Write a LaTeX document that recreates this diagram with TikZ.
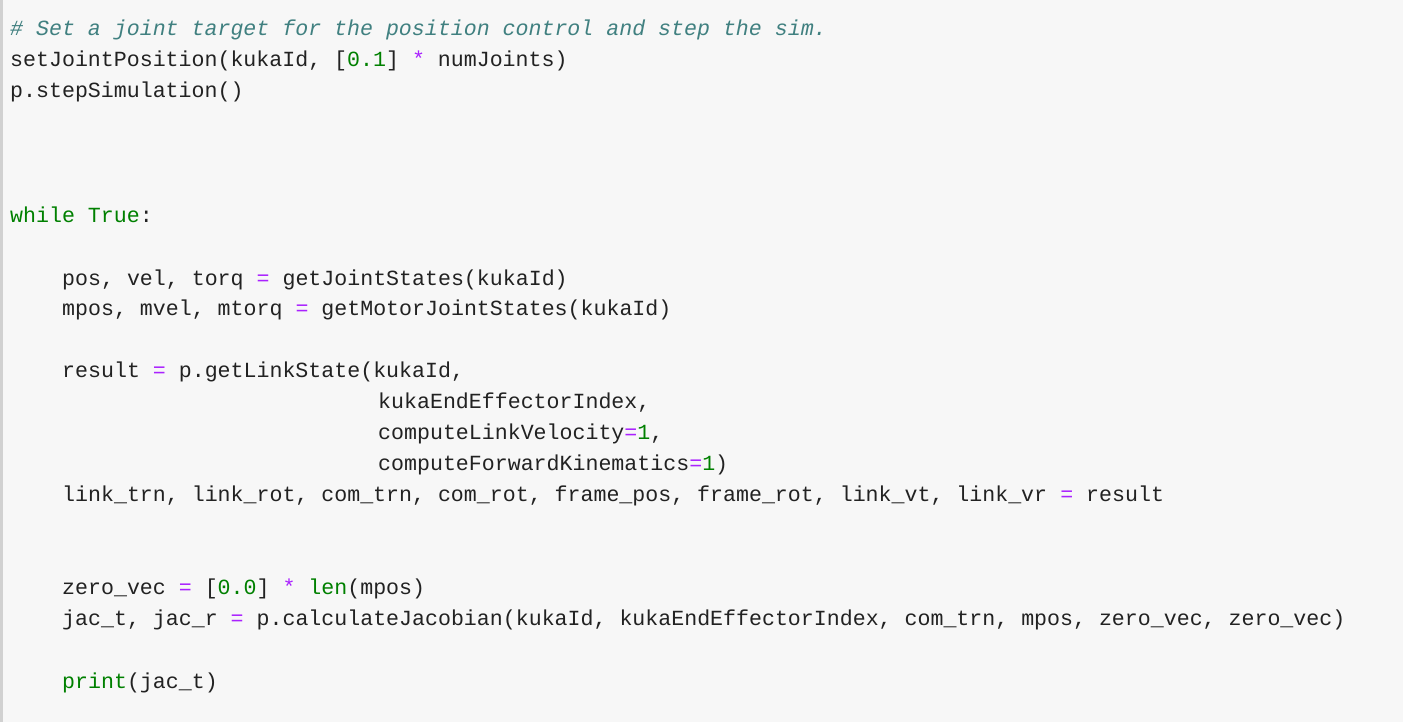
\documentclass[tikz,border=0pt]{standalone}
\usepackage{fontspec}
\setmonofont{Liberation Mono}
\definecolor{bg}{HTML}{F7F7F7}
\definecolor{cm}{HTML}{408080}
\definecolor{kw}{HTML}{008000}
\definecolor{op}{HTML}{AA22FF}
\definecolor{nm}{HTML}{008000}
\definecolor{tx}{HTML}{222222}
\newcommand{\K}[1]{\textcolor{kw}{#1}}
\newcommand{\Op}[1]{\textcolor{op}{#1}}
\newcommand{\N}[1]{\textcolor{nm}{#1}}
\begin{document}
\begin{tikzpicture}[x=1pt,y=-1pt,
  code/.style={anchor=base west,inner sep=0pt,text=tx,font=\ttfamily\fontsize{21.6}{26}\selectfont}]
\useasboundingbox (0,0) rectangle (1403,722);
\fill[bg] (0,0) rectangle (1403,722);
\fill[black!18] (0,0) rectangle (3,722);
\node[code] (l1) at (10,36) {\textcolor{cm}{\itshape \# Set a joint target for the position control and step the sim.}};
\node[code] (l2) at (10,67) {setJointPosition(kukaId, [\N{0.1}] \Op{*} numJoints)};
\node[code] (l3) at (10,98) {p.stepSimulation()};
\node[code] (l4) at (10,223) {\K{while} \K{True}:};
\node[code] (l5) at (62,285) {pos, vel, torq \Op{=} getJointStates(kukaId)};
\node[code] (l6) at (62,315) {mpos, mvel, mtorq \Op{=} getMotorJointStates(kukaId)};
\node[code] (l7) at (62,377) {result \Op{=} p.getLinkState(kukaId,};
\node[code] (l8) at (378,408) {kukaEndEffectorIndex,};
\node[code] (l9) at (378,439) {computeLinkVelocity\Op{=}\N{1},};
\node[code] (l10) at (378,470) {computeForwardKinematics\Op{=}\N{1})};
\node[code] (l11) at (62,501) {link\_trn, link\_rot, com\_trn, com\_rot, frame\_pos, frame\_rot, link\_vt, link\_vr \Op{=} result};
\node[code] (l12) at (62,594) {zero\_vec \Op{=} [\N{0.0}] \Op{*} \K{len}(mpos)};
\node[code] (l13) at (62,625) {jac\_t, jac\_r \Op{=} p.calculateJacobian(kukaId, kukaEndEffectorIndex, com\_trn, mpos, zero\_vec, zero\_vec)};
\node[code] (l14) at (62,688) {\K{print}(jac\_t)};
\end{tikzpicture}
\end{document}
